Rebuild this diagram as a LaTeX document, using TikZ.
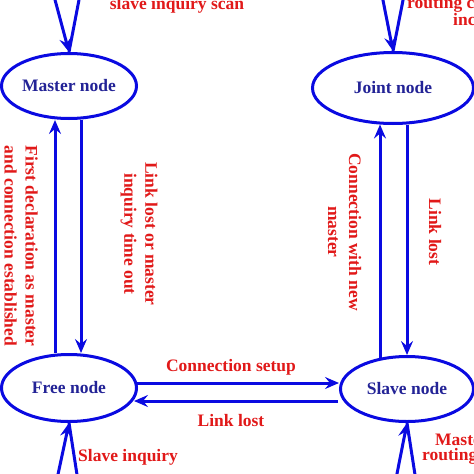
\documentclass[tikz,border=0pt]{standalone}
\usepackage{fontspec}
\setmainfont{Liberation Serif}
\usetikzlibrary{arrows.meta,shapes.geometric}
\definecolor{lineblue}{RGB}{10,10,225}
\definecolor{textblue}{RGB}{35,35,150}
\definecolor{labelred}{RGB}{225,25,25}
\begin{document}
\begin{tikzpicture}[x=1pt,y=-1pt,
    state/.style={ellipse,draw=lineblue,line width=3pt,text=textblue,
        font=\fontsize{17.5}{21}\selectfont\bfseries,inner sep=0pt},
    wire/.style={lineblue,line width=3pt},
    flow/.style={wire,-{Stealth[length=14pt,width=12pt,inset=5pt]}},
    lab/.style={text=labelred,font=\fontsize{17.5}{21}\selectfont\bfseries,
        inner sep=0pt,align=center}]
    \useasboundingbox (0,0) rectangle (474,474);
    \clip (0,0) rectangle (474,474);
    % the four states
    \node[state,minimum width=135pt,minimum height=65pt] (master) at (69,86) {Master node};
    \node[state,minimum width=161pt,minimum height=71pt] (joint) at (393,88) {Joint node};
    \node[state,minimum width=135pt,minimum height=67pt] (free) at (69,388) {Free node};
    \node[state,minimum width=133pt,minimum height=65pt] (slave) at (407,389) {Slave node};
    % loose ends of the loops outside the frame
    \coordinate (mtopL) at (49.7,-20);
    \coordinate (mtopR) at (82.8,-20);
    \coordinate (jtopL) at (379,-20);
    \coordinate (jtopR) at (407,-20);
    \coordinate (fbotL) at (53.8,494);
    \coordinate (fbotR) at (80,494);
    \coordinate (sbotL) at (393,494);
    \coordinate (sbotR) at (418,494);
    \draw[flow] (mtopL) -- (master.north);
    \draw[wire] (master.north) -- (mtopR);
    \draw[flow] (jtopL) -- (joint.north);
    \draw[wire] (joint.north) -- (jtopR);
    \draw[flow] (fbotL) -- (free.south);
    \draw[wire] (free.south) -- (fbotR);
    \draw[flow] (sbotL) -- (slave.south);
    \draw[wire] (slave.south) -- (sbotR);
    % transitions
    \draw[flow] ([shift={(-14,0)}]free.north) -- ([shift={(-14,0)}]master.south);
    \draw[flow] ([shift={(12,0)}]master.south) -- ([shift={(12,0)}]free.north);
    \draw[flow] ([shift={(-27,2.5)}]slave.north) -- ([shift={(-13,-0.5)}]joint.south);
    \draw[flow] ([shift={(14,-0.5)}]joint.south) -- (slave.north);
    \draw[flow] ([shift={(-1,-5)}]free.east) -- ([shift={(0,-6)}]slave.west);
    \draw[flow] ([shift={(-1,12)}]slave.west) -- ([shift={(-4,13)}]free.east);
    % labels
    \node[lab,anchor=base] (lscan) at (177,9) {slave inquiry scan};
    \node[lab,anchor=base west] (lrout) at (407,8) {routing c};
    \node[lab,anchor=base west] (linc) at (453,25) {inc};
    \node[lab,rotate=-90] (lfirst) at (21,246) {First declaration as master\\and connection established};
    \node[lab,rotate=-90] (lmlost) at (139,234) {Link lost or master\\inquiry time out};
    \node[lab,rotate=-90] (lnew) at (344.5,232) {Connection with new\\master};
    \node[lab,rotate=-90] (ljlost) at (435,232) {Link lost};
    \node[lab] (lsetup) at (231,367) {Connection setup};
    \node[lab] (lslost) at (231,421) {Link lost};
    \node[lab,anchor=base west] (lsinq) at (78,461) {Slave inquiry};
    \node[lab,anchor=base west] (lmast) at (435,445) {Master};
    \node[lab,anchor=base west] (lsrout) at (422,460) {routing};
\end{tikzpicture}
\end{document}
